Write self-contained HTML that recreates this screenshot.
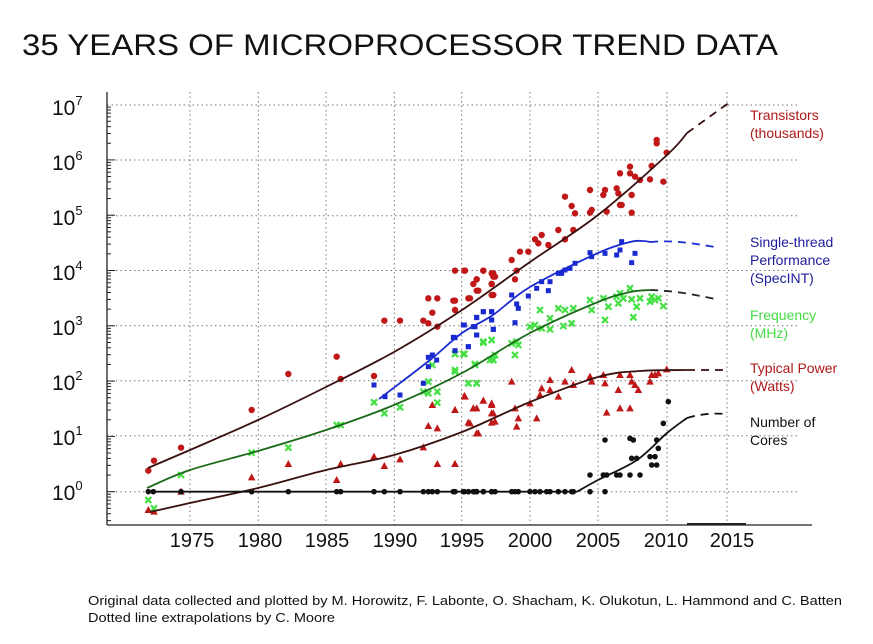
<!DOCTYPE html>
<html><head><meta charset="utf-8"><style>
html,body{margin:0;padding:0;background:#fff;}
svg{display:block;font-family:"Liberation Sans",sans-serif;}
</style></head><body>
<svg id="s" width="873" height="644" viewBox="0 0 873 644" xmlns="http://www.w3.org/2000/svg">
<rect width="873" height="644" fill="#fff"/>
<text x="22" y="55" font-size="30" fill="#111" textLength="756" lengthAdjust="spacingAndGlyphs">35 YEARS OF MICROPROCESSOR TREND DATA</text>
<g id="grid" stroke="#777" stroke-width="1" stroke-dasharray="1.5,3"></g>
<g stroke="#222" stroke-width="1.3" fill="none">
<line x1="107" y1="92" x2="107" y2="525"/>
<line x1="107" y1="525" x2="812" y2="525"/>
<line x1="687" y1="524" x2="746" y2="524" stroke-width="2"/>
</g>
<g id="ticks" stroke="#222" stroke-width="1"></g>
<g font-size="21" fill="#111" id="ylab">
<text x="52" y="115">10<tspan font-size="13" dy="-10">7</tspan></text>
<text x="52" y="170">10<tspan font-size="13" dy="-10">6</tspan></text>
<text x="52" y="225">10<tspan font-size="13" dy="-10">5</tspan></text>
<text x="52" y="280">10<tspan font-size="13" dy="-10">4</tspan></text>
<text x="52" y="335">10<tspan font-size="13" dy="-10">3</tspan></text>
<text x="52" y="390">10<tspan font-size="13" dy="-10">2</tspan></text>
<text x="52" y="445">10<tspan font-size="13" dy="-10">1</tspan></text>
<text x="52" y="500">10<tspan font-size="13" dy="-10">0</tspan></text>
</g>
<g font-size="20" fill="#111" text-anchor="middle">
<text x="192" y="547">1975</text><text x="260" y="547">1980</text><text x="327" y="547">1985</text>
<text x="395" y="547">1990</text><text x="462" y="547">1995</text><text x="530" y="547">2000</text>
<text x="598" y="547">2005</text><text x="666" y="547">2010</text><text x="732" y="547">2015</text>
</g>
<g id="data"></g>
<g font-size="14">
<text x="750" y="120" fill="#b01818">Transistors</text><text x="750" y="138" fill="#b01818">(thousands)</text>
<text x="750" y="247" fill="#1c1c9a">Single-thread</text><text x="750" y="265" fill="#1c1c9a">Performance</text><text x="750" y="283" fill="#1c1c9a">(SpecINT)</text>
<text x="750" y="320" fill="#44dd44">Frequency</text><text x="750" y="338" fill="#44dd44">(MHz)</text>
<text x="750" y="373" fill="#b01818">Typical Power</text><text x="750" y="391" fill="#b01818">(Watts)</text>
<text x="750" y="427" fill="#111">Number of</text><text x="750" y="445" fill="#111">Cores</text>
</g>
<g font-size="13" fill="#111">
<text x="88" y="605" textLength="754" lengthAdjust="spacingAndGlyphs">Original data collected and plotted by M. Horowitz, F. Labonte, O. Shacham, K. Olukotun, L. Hammond and C. Batten</text>
<text x="88" y="622" textLength="247" lengthAdjust="spacingAndGlyphs">Dotted line extrapolations by C. Moore</text>
</g>
</svg>
<script>
var NS="http://www.w3.org/2000/svg";
function el(p,t,a){var e=document.createElementNS(NS,t);for(var k in a)e.setAttribute(k,a[k]);p.appendChild(e);return e;}
var g=document.getElementById("grid");
[105,160,215.7,270.5,325.7,380.7,435.7,491.7].forEach(function(y){el(g,"line",{x1:107,y1:y,x2:800,y2:y});});
[190,258.3,326,394.3,461.7,530,598,667,727].forEach(function(x){el(g,"line",{x1:x,y1:92,x2:x,y2:525});});
var tk=document.getElementById("ticks");
for(var d=0;d<7;d++){var y0=491.7-d*55.3;el(tk,"line",{x1:107,y1:y0,x2:115,y2:y0});
for(var m=2;m<10;m++){var y=y0-Math.log10(m)*55.3;el(tk,"line",{x1:107,y1:y,x2:111,y2:y});}}
for(var m=2;m<10;m++){var y=491.7+55.3-Math.log10(m)*55.3;if(y<525)el(tk,"line",{x1:107,y1:y,x2:111,y2:y});}
var D=document.getElementById("data");
function pts(a,b){var r=[];for(var i=0;i<a.length;i+=2)r.push([a[i]/3+100,a[i+1]/3+80]);for(var i=0;i<b.length;i+=2)r.push([b[i]/3+450,b[i+1]/3+80]);return r;}
var RED="#c01818",BLUE="#1a2ad0",GREEN="#44e044";
var circ=pts([145,1172,162,1142,243,1103,455,990,565,882,710,830,722,897,822,888,853,722,900,722,970,722,985,655,1012,655,997,698,985,730,1012,740,1065,662,1065,690,1093,572,1105,655,1120,612,1130,598,1135,632,1150,572,1175,612,1175,645,1180,580,1185,590],
[15,572,45,572,80,598,80,632,100,572,125,580,130,590,125,612,130,645,10,662,60,655,185,540,195,598,200,572,210,515,235,515,255,478,275,465,295,495,265,490,325,450,345,478,370,450,345,350,365,378,375,400,420,330,420,398,425,390,460,345,465,330,470,395,500,325,505,340,510,280,510,375,515,375,540,260,540,280,545,345,545,398,555,290,570,300,600,298,605,258,620,180,620,190,640,305,650,218]);
var sq=pts([822,915,855,950,900,945,970,910,985,860,985,832,997,825,1010,840,1065,773,1065,812,1093,735,1105,800,1120,740,1130,765,1130,713,1150,695,1175,695,1175,720,1180,748],
[10,772,40,735,55,800,75,740,80,765,80,712,100,695,125,695,125,720,130,748,185,645,195,728,200,672,205,685,235,648,260,625,275,605,295,632,300,605,325,580,335,580,345,570,360,565,375,550,420,518,425,530,465,520,500,525,510,510,515,485,545,548,555,520]);
var xs=pts([145,1260,162,1285,243,1185,455,1118,565,1103,710,1035,722,1035,822,967,853,1000,900,982,970,935,985,940,985,905,997,855,1012,935,1012,968,1065,875,1065,822,1093,822,1105,910,1130,910,1125,855,1150,785,1175,780,1180,840,1185,825],
[15,822,40,822,15,870,55,910,80,910,75,852,100,788,125,780,120,840,130,840,185,790,195,825,200,785,205,795,240,740,255,735,270,690,275,745,300,748,300,715,325,685,345,690,340,738,365,730,370,685,420,660,425,690,460,655,465,720,475,680,500,650,505,670,510,640,520,655,540,625,545,658,550,712,560,680,570,655,600,665,605,650,615,660,625,655,640,678]);
var tri=pts([145,1290,162,1295,243,1235,455,1192,565,1152,710,1200,722,1152,822,1130,853,1158,900,1138,970,1102,985,1038,997,975,1012,1045,1012,1152,1065,990,1065,1152,1093,948,1105,1028,1120,985,1130,1060,1150,962,1175,970,1175,1000,1185,1025],
[15,1152,15,990,45,950,60,1030,70,985,80,985,85,1060,100,962,125,975,130,1000,125,1028,185,905,195,985,205,1015,200,1040,240,970,260,1015,270,945,275,925,300,930,300,900,325,950,345,905,365,870,370,915,420,890,425,905,460,885,465,910,470,998,505,930,510,885,510,985,540,985,540,885,545,905,555,915,565,930,600,905,605,885,615,885,625,880,650,868]);
var ca=[],cb=[];
[145,160,243,455,565,710,722,822,853,900,970,985,997,1012,1065,1093,1105,1120,1130,1150,1175,1185].forEach(function(x){ca.push(x,1235);});
[10,40,55,75,80,100,125,185,195,205,240,255,270,290,300,325,345,365,370,420,465].forEach(function(x){cb.push(x,1235);});
cb=cb.concat([420,1185,460,1185,470,1185,500,1185,510,1185,540,1185,545,1135,560,1135,570,1185,465,1080,540,1075,550,1080,600,1130,605,1155,615,1130,620,1155,620,1080,625,1105,640,1030,655,965]);
var cores=pts(ca,cb);
tri.forEach(function(p){el(D,"polygon",{points:(p[0])+","+(p[1]-4)+" "+(p[0]-3.8)+","+(p[1]+3)+" "+(p[0]+3.8)+","+(p[1]+3),fill:RED});});
xs.forEach(function(p){el(D,"path",{d:"M"+(p[0]-3)+","+(p[1]-3)+"L"+(p[0]+3)+","+(p[1]+3)+"M"+(p[0]+3)+","+(p[1]-3)+"L"+(p[0]-3)+","+(p[1]+3),stroke:GREEN,"stroke-width":2.2});});
circ.forEach(function(p){el(D,"circle",{cx:p[0],cy:p[1],r:3.2,fill:RED});});
sq.forEach(function(p){el(D,"rect",{x:p[0]-2.5,y:p[1]-2.5,width:5,height:5,fill:BLUE});});
cores.forEach(function(p){el(D,"circle",{cx:p[0],cy:p[1],r:2.8,fill:"#111"});});
function line(a,c,dash){var d="M"+a.map(function(p){return p.join(",");}).join(" L");var o={d:d,fill:"none",stroke:c,"stroke-width":1.8};if(dash)o["stroke-dasharray"]="8,6";el(D,"path",o);}
function smooth(a,c){var d="M"+a[0].join(",");for(var i=0;i<a.length-1;i++){var p0=a[Math.max(i-1,0)],p1=a[i],p2=a[i+1],p3=a[Math.min(i+2,a.length-1)];d+=" C"+(p1[0]+(p2[0]-p0[0])/6)+","+(p1[1]+(p2[1]-p0[1])/6)+" "+(p2[0]-(p3[0]-p1[0])/6)+","+(p2[1]-(p3[1]-p1[1])/6)+" "+p2[0]+","+p2[1];}el(D,"path",{d:d,fill:"none",stroke:c,"stroke-width":1.8});}
smooth([[148,468],[190,450],[258,420],[326,387],[394,352],[462,310],[530,262],[598,215],[667,155],[687,133]],"#3a1010");
line([[687,133],[730,102]],"#3a1010",1);
smooth([[379,399],[430,360],[462,333],[493,315],[530,287],[598,253],[630,242],[643,241],[650,242]],BLUE);
el(D,"path",{d:"M650,242 C675,240 690,243 715,247",fill:"none",stroke:BLUE,"stroke-width":1.8,"stroke-dasharray":"8,6"});
smooth([[147,488],[190,470],[258,451],[326,430],[394,405],[462,373],[530,333],[598,302],[630,292],[650,290]],"#1a6a1a");
el(D,"path",{d:"M650,290 C680,291 700,296 715,299",fill:"none",stroke:"#222","stroke-width":1.8,"stroke-dasharray":"8,6"});
smooth([[150,512],[190,503],[258,488],[326,470],[394,455],[462,432],[530,402],[598,377],[640,371],[687,370]],"#3a1010");
line([[687,370],[727,370]],"#3a1010",1);
line([[148,491.7],[577,491.7]],"#111");
smooth([[577,491.7],[598,480],[637,460],[667,433],[687,418]],"#111");
el(D,"path",{d:"M687,418 C700,414 712,413 727,414",fill:"none",stroke:"#111","stroke-width":1.8,"stroke-dasharray":"8,6"});
</script>
</body></html>
